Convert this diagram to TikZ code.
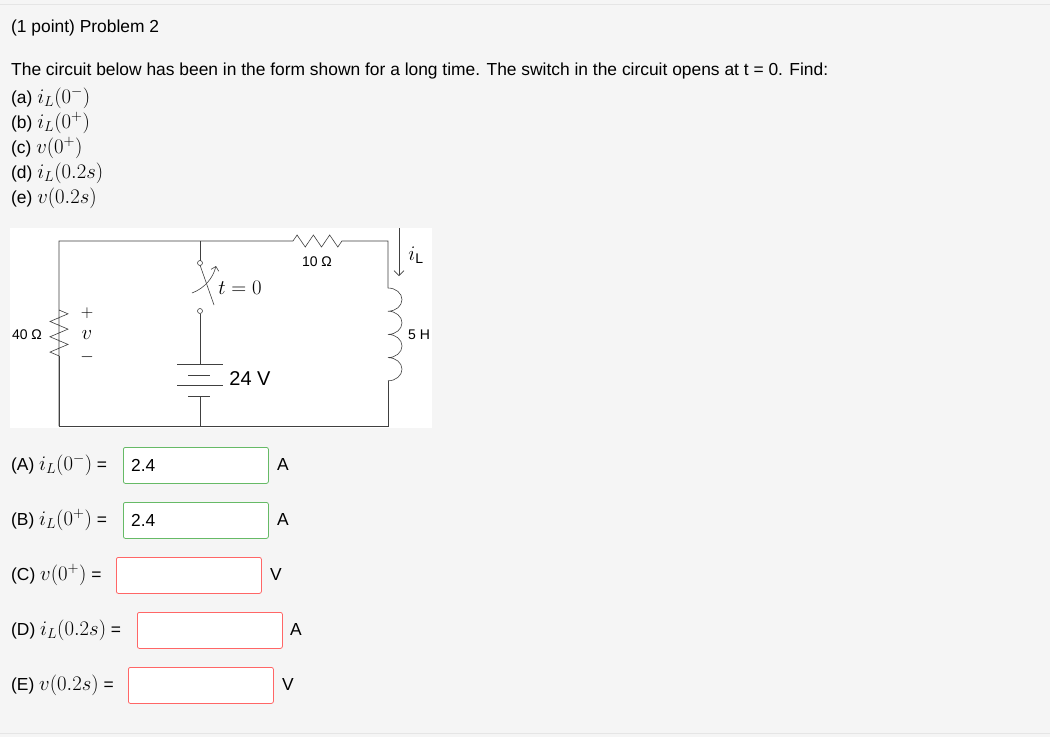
\documentclass[tikz,border=0pt]{standalone}
\usepackage{fontspec}
\setmainfont{Liberation Sans}
\usetikzlibrary{decorations.pathmorphing,arrows.meta}
\newcommand{\mm}[1]{{\fontsize{21}{22}\selectfont$#1$}}
\begin{document}
\begin{tikzpicture}[x=1pt,y=-1pt,
  txt/.style={anchor=west,inner sep=0,font=\fontsize{17.4}{20}\selectfont},
  wire/.style={draw=black!75,line width=0.6pt},
  okbox/.style={draw=green!55!black!60,line width=0.8pt,rounded corners=2pt,fill=white,minimum width=145pt,minimum height=36pt,anchor=north west,inner sep=0},
  badbox/.style={draw=red!60,line width=0.8pt,rounded corners=2pt,fill=white,minimum width=145pt,minimum height=36pt,anchor=north west,inner sep=0},
  ser/.style={inner sep=0,font=\fontsize{20}{22}\selectfont\rmfamily}]
\useasboundingbox (0,0) rectangle (1050,737);
\fill[black!4] (0,0) rectangle (1050,737);
\draw[black!10] (0,4)--(1050,4) (0,733)--(1050,733);
\node[txt] (h) at (11,28) {(1 point) Problem 2};
\node[txt] (p) at (11,71) {The circuit below has been in the form shown for a long time. The switch in the circuit opens at t = 0. Find:};
\node[txt] (a) at (11,98) {(a) \mm{i_L(0^-)}};
\node[txt] (b) at (11,123) {(b) \mm{i_L(0^+)}};
\node[txt] (c) at (11,148) {(c) \mm{v(0^+)}};
\node[txt] (d) at (11,173) {(d) \mm{i_L(0.2s)}};
\node[txt] (e) at (11,198) {(e) \mm{v(0.2s)}};
% circuit
\fill[white] (10,228) rectangle (432,428);
\coordinate (tl) at (59,241); \coordinate (bl) at (59,426);
\coordinate (tm) at (200,241); \coordinate (bm) at (200,426);
\coordinate (tr) at (388,241); \coordinate (br) at (388,426);
\draw[wire] (bl)--(59,310) decorate[decoration={zigzag,segment length=15.3pt,amplitude=9pt}]{--(59,356)}--(59,356)--(tl)--(293,241)
  decorate[decoration={zigzag,segment length=16.3pt,amplitude=6pt}]{--(342,241)}--(tr)--(388,288);
\draw[wire] (59,356)--(bl)--(br)--(388,381);
\draw[wire] (388,288) arc(90:-90:14pt and 11.6pt) arc(90:-90:14pt and 11.6pt) arc(90:-90:14pt and 11.6pt) arc(90:-90:14pt and 11.6pt);
\draw[wire] (tm)--(200,260.5) (200,313.5)--(200,364) (200,396)--(bm);
\draw[wire] (200,263) circle (2.5pt) (200,311) circle (2.5pt);
\draw[wire] (200,265)--(214,305);
\draw[wire,-{Straight Barb[length=4pt]}] (192,293) .. controls (205,288) and (213,278) .. (216,266);
\draw[wire] (177,364)--(223,364) (188,375)--(210,375) (177,385)--(223,385) (188,396)--(210,396);
\draw[wire,-{Straight Barb[length=5pt]}] (399,228)--(399,276);
\node[ser] (sw) at (240,288) {$t=0$};
\node[ser] (bat) at (250,379) {24 V};
\node[ser] (vv) at (87,335) {$v$};
\node[ser,font=\fontsize{17}{18}\selectfont\rmfamily] (vp) at (87,313) {$+$};
\node[ser,font=\fontsize{17}{18}\selectfont\rmfamily] (vm) at (87,357) {$-$};
\node[ser] (il) at (416,255) {$i_{\mathrm{L}}$};
\node[inner sep=0,font=\fontsize{14}{15}\selectfont] (r1) at (27,335) {40 Ω};
\node[inner sep=0,font=\fontsize{14}{15}\selectfont] (r2) at (317,262) {10 Ω};
\node[inner sep=0,font=\fontsize{14}{15}\selectfont] (l1) at (419,335) {5 H};
% answers
\node[txt] (qa) at (11,465) {(A) \mm{i_L(0^-)} =};
\node[okbox] (ba) at (123,447) {};
\node[txt] (va) at (131,465) {2.4};
\node[txt] (ua) at (277,465) {A};
\node[txt] (qb) at (11,520) {(B) \mm{i_L(0^+)} =};
\node[okbox] (bb) at (123,502) {};
\node[txt] (vb) at (131,520) {2.4};
\node[txt] (ub) at (277,520) {A};
\node[txt] (qc) at (11,575) {(C) \mm{v(0^+)} =};
\node[badbox] (bc) at (116,557) {};
\node[txt] (uc) at (270,575) {V};
\node[txt] (qd) at (11,630) {(D) \mm{i_L(0.2s)} =};
\node[badbox] (bd) at (137,612) {};
\node[txt] (ud) at (290,630) {A};
\node[txt] (qe) at (11,685) {(E) \mm{v(0.2s)} =};
\node[badbox] (be) at (128,667) {};
\node[txt] (ue) at (282,685) {V};
\end{tikzpicture}
\end{document}
